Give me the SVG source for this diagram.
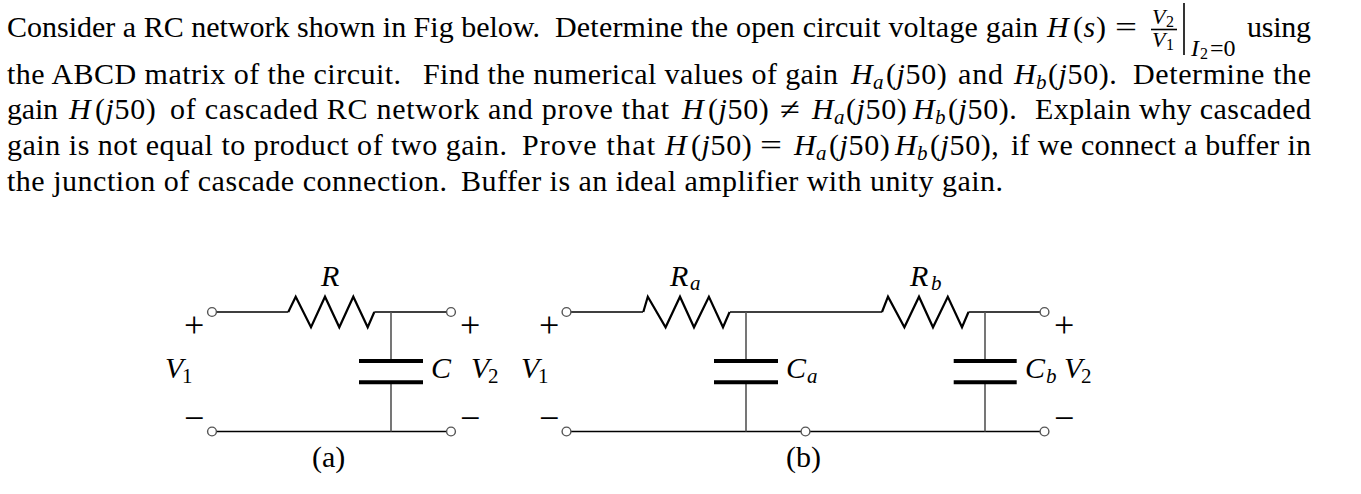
<svg xmlns="http://www.w3.org/2000/svg" width="1361" height="494" viewBox="0 0 1361 494">
<style>
text{font-family:"Liberation Serif","Times New Roman",serif;font-size:30px;fill:#000}
.i{font-style:italic}
.m{letter-spacing:.6px}
.s{font-size:21px}
.u{font-size:16px;font-style:normal}
.f{font-size:22px}
.g{font-size:24px}
.p{font-size:36px}
.w{fill:none;stroke:#000;stroke-width:1.6}
.v{fill:none;stroke:#555;stroke-width:1.6}
.z{fill:none;stroke:#000;stroke-width:2.2;stroke-linejoin:miter}
.c{fill:none;stroke:#000;stroke-width:4}
.t{fill:#fff;stroke:#555;stroke-width:1.4}
</style>
<rect width="1361" height="494" fill="#fff"/>
<defs>
<circle id="term" class="t" r="4.4"/>
</defs>
<g id="problem-text">
<text x="7" y="37" textLength="533">Consider a RC network shown in Fig below.</text>
<text x="555" y="37" textLength="483">Determine the open circuit voltage gain</text>
<text y="37" class="m"><tspan x="1047" class="i">H</tspan><tspan x="1073">(</tspan><tspan class="i">s</tspan><tspan>)</tspan></text>
<text x="1115" y="37" textLength="22" lengthAdjust="spacingAndGlyphs">=</text>
<text x="1152" y="24" class="i f">V<tspan x="1166" dy="3" class="u">2</tspan></text>
<text x="1152" y="47" class="i f">V<tspan x="1166" dy="3" class="u">1</tspan></text>
<path d="M1151 29.500H1177" class="w"/>
<path d="M1184 3V55" class="w"/>
<text x="1191" y="56" class="i g">I<tspan x="1200" dy="3" class="u">2</tspan><tspan x="1210" dy="-3" style="font-style:normal">=0</tspan></text>
<text x="1247" y="37" textLength="64">using</text>

<text x="7" y="84" textLength="394">the ABCD matrix of the circuit.</text>
<text x="423" y="84" textLength="415">Find the numerical values of gain</text>
<text y="84" class="m"><tspan x="851" class="i">H</tspan><tspan x="873" dy="5" class="i s">a</tspan><tspan x="886" dy="-5">(</tspan><tspan class="i">j</tspan>50)</text>
<text x="958" y="84" textLength="45">and</text>
<text y="84" class="m"><tspan x="1014" class="i">H</tspan><tspan x="1036" dy="5" class="i s">b</tspan><tspan x="1048" dy="-5">(</tspan><tspan class="i">j</tspan>50).</text>
<text x="1133" y="84" textLength="178">Determine the</text>

<text x="7" y="119" textLength="51">gain</text>
<text y="119" class="m"><tspan x="69" class="i">H</tspan><tspan x="95">(</tspan><tspan class="i">j</tspan>50)</text>
<text x="170" y="119" textLength="499">of cascaded RC network and prove that</text>
<text y="119" class="m"><tspan x="682" class="i">H</tspan><tspan x="708">(</tspan><tspan class="i">j</tspan>50)</text>
<text x="780" y="119" textLength="20" lengthAdjust="spacingAndGlyphs">≠</text>
<text y="119" class="m"><tspan x="812" class="i">H</tspan><tspan x="834" dy="5" class="i s">a</tspan><tspan x="846" dy="-5">(</tspan><tspan class="i">j</tspan>50)<tspan x="913" class="i">H</tspan><tspan x="935" dy="5" class="i s">b</tspan><tspan x="948" dy="-5">(</tspan><tspan class="i">j</tspan>50).</text>
<text x="1035" y="119" textLength="276">Explain why cascaded</text>

<text x="7" y="155" textLength="500">gain is not equal to product of two gain.</text>
<text x="522" y="155" textLength="133">Prove that</text>
<text y="155" class="m"><tspan x="665" class="i">H</tspan><tspan x="691">(</tspan><tspan class="i">j</tspan>50)</text>
<text x="760" y="155" textLength="22" lengthAdjust="spacingAndGlyphs">=</text>
<text y="155" class="m"><tspan x="794" class="i">H</tspan><tspan x="816" dy="5" class="i s">a</tspan><tspan x="829" dy="-5">(</tspan><tspan class="i">j</tspan>50)<tspan x="895" class="i">H</tspan><tspan x="917" dy="5" class="i s">b</tspan><tspan x="930" dy="-5">(</tspan><tspan class="i">j</tspan>50),</text>
<text x="1011" y="155" textLength="300">if we connect a buffer in</text>

<text x="7" y="191" textLength="440">the junction of cascade connection.</text>
<text x="461" y="191" textLength="542">Buffer is an ideal amplifier with unity gain.</text>
</g>

<g id="connectors">
<path class="w" d="M216 312H288.300M374.300 312H447M216 431.500H447"/>
<path class="v" d="M391 312V361M391 382V431.500"/>
<path class="w" d="M571 312H643M730 312H882M968.500 312H1040M571 431.500H801M810 431.500H1040"/>
<path class="v" d="M746 312V361M746 382V431.500M985 312V361M985 382V431.500"/>
</g>

<g id="circuit-a">
<g id="R"><path class="z" d="M288.300 312L295.700 296.700L311 327.300L325 296.700L339.300 327.300L353.300 296.700L367.700 327.300L374.300 312"/>
<text x="321" y="286" class="i">R</text></g>
<g id="C"><path class="c" d="M359 361H423M359 382.300H423"/>
<text x="431" y="378" class="i">C</text></g>
<g id="a-ports">
<use href="#term" x="212" y="312"/><use href="#term" x="212" y="431.500"/><use href="#term" x="451" y="312"/><use href="#term" x="451" y="431.500"/>
<text x="184" y="337" class="p">+</text><text x="184" y="430" class="p">−</text><text x="460" y="337" class="p">+</text><text x="460" y="430" class="p">−</text>
<text x="165" y="378" class="i">V<tspan x="182" dy="5" class="s" style="font-style:normal">1</tspan></text>
<text x="471" y="378" class="i">V<tspan x="488" dy="5" class="s" style="font-style:normal">2</tspan></text>
</g>
<text id="label-a" x="312" y="467">(a)</text>
</g>

<g id="circuit-b">
<g id="Ra"><path class="z" d="M643.300 312L647.800 296.700L665.600 327.300L680 296.700L694 327.300L708.900 296.700L723 327.300L729.600 312"/>
<text x="670" y="286" class="i">R<tspan x="690" dy="4" class="s">a</tspan></text></g>
<g id="Ca"><path class="c" d="M714 361H778M714 382.300H778"/>
<text x="786" y="378" class="i">C<tspan x="807" dy="5" class="s">a</tspan></text></g>
<g id="Rb"><path class="z" d="M882 312L888 296.700L904.400 327.300L919 296.700L933 327.300L947.800 296.700L962 327.300L968.500 312"/>
<text x="910" y="286" class="i">R<tspan x="931" dy="4" class="s">b</tspan></text></g>
<g id="Cb"><path class="c" d="M953.700 361H1016.700M953.700 382.300H1016.700"/>
<text x="1025" y="378" class="i">C<tspan x="1046" dy="5" class="s">b</tspan></text></g>
<g id="b-ports">
<use href="#term" x="566.500" y="312"/><use href="#term" x="566.500" y="431.500"/><use href="#term" x="805.500" y="431.500"/><use href="#term" x="1044.500" y="312"/><use href="#term" x="1044.500" y="431.500"/>
<text x="539" y="337" class="p">+</text><text x="539" y="430" class="p">−</text><text x="1054" y="337" class="p">+</text><text x="1054" y="430" class="p">−</text>
<text x="521" y="378" class="i">V<tspan x="538" dy="5" class="s" style="font-style:normal">1</tspan></text>
<text x="1064" y="378" class="i">V<tspan x="1081" dy="5" class="s" style="font-style:normal">2</tspan></text>
</g>
<text id="label-b" x="786" y="467">(b)</text>
</g>
</svg>
